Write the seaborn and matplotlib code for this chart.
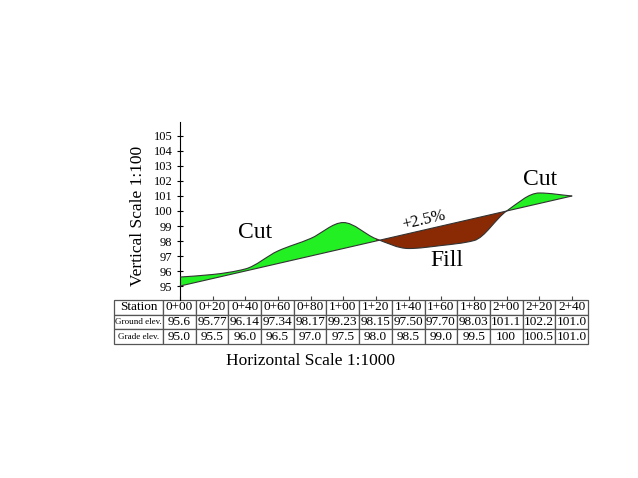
import numpy as np
import matplotlib
matplotlib.use("Agg")
import matplotlib.pyplot as plt
from matplotlib.path import Path
from matplotlib.patches import PathPatch
import seaborn as sns

# profile data (stations in m)
stations = [0, 20, 40, 60, 80, 100, 120, 140, 160, 180, 200, 220, 240]
ground_drawn = [95.6, 95.77, 96.14, 97.34, 98.17, 99.23, 98.15, 97.50, 97.70, 98.03, 100.0, 101.2, 101.0]
grade = [95.0, 95.5, 96.0, 96.5, 97.0, 97.5, 98.0, 98.5, 99.0, 99.5, 100.0, 100.5, 101.0]

# table text
station_labels = ["0+00", "0+20", "0+40", "0+60", "0+80", "1+00", "1+20",
                  "1+40", "1+60", "1+80", "2+00", "2+20", "2+40"]
ground_labels = ["95.6", "95.77", "96.14", "97.34", "98.17", "99.23", "98.15",
                 "97.50", "97.70", "98.03", "101.1", "102.2", "101.0"]
grade_labels = ["95.0", "95.5", "96.0", "96.5", "97.0", "97.5", "98.0",
                "98.5", "99.0", "99.5", "100", "100.5", "101.0"]

# cut / fill regions as (start index, end index, colour)
regions = [(0, 6, "#22f022"), (6, 10, "#8a2a04"), (10, 12, "#22f022")]

sns.set_theme(style="white")
plt.rcParams["font.family"] = ["Liberation Serif", "DejaVu Serif"]
plt.rcParams["text.color"] = "black"
plt.rcParams["ytick.color"] = "black"

x = np.array(stations, dtype=float)
y = np.array(ground_drawn)
g = np.array(grade)

# tangents for a smooth (monotone) curve through the ground points
d = np.diff(y) / np.diff(x)
m = np.zeros(len(x))
m[0], m[-1] = d[0], d[-1]
for i in range(1, len(x) - 1):
    if d[i - 1] * d[i] <= 0:
        m[i] = 0
    else:
        m[i] = 2 * d[i - 1] * d[i] / (d[i - 1] + d[i])


def curve_verts(a, b):
    verts, codes = [], []
    for i in range(a, b):
        h = x[i + 1] - x[i]
        verts += [(x[i] + h / 3, y[i] + m[i] * h / 3),
                  (x[i + 1] - h / 3, y[i + 1] - m[i + 1] * h / 3),
                  (x[i + 1], y[i + 1])]
        codes += [Path.CURVE4] * 3
    return verts, codes


fig = plt.figure(figsize=(6.38, 4.78), dpi=100)
ax = fig.add_axes([114 / 638, 1 - 300 / 478, 474 / 638, 178 / 478])
ax.set_xlim(-40.4, 249.8)
ax.set_ylim(94.07, 105.93)

for a, b, col in regions:
    cv, cc = curve_verts(a, b)
    verts = [(x[a], g[a]), (x[a], y[a])] + cv + [(x[b], g[b]), (x[a], g[a])]
    codes = [Path.MOVETO, Path.LINETO] + cc + [Path.LINETO, Path.CLOSEPOLY]
    ax.add_patch(PathPatch(Path(verts, codes), facecolor=col, edgecolor="none", zorder=2))

cv, cc = curve_verts(0, len(x) - 1)
ax.add_patch(PathPatch(Path([(x[0], y[0])] + cv, [Path.MOVETO] + cc),
                       fill=False, edgecolor="#333333", lw=0.8, zorder=3))
sns.lineplot(x=stations, y=grade, color="#333333", lw=0.8, ax=ax, zorder=3)

for side in ["top", "right", "bottom"]:
    ax.spines[side].set_visible(False)
ax.spines["left"].set_position(("data", 0))
ax.spines["left"].set_color("black")
ax.spines["left"].set_linewidth(0.8)

ax.set_yticks(range(95, 106))
ax.tick_params(axis="y", left=True, direction="inout", length=5, width=0.8,
               pad=3, labelsize=9, colors="black")
ax.set_xticks(stations)
ax.tick_params(axis="x", bottom=True, direction="in", length=3, width=0.8,
               labelbottom=False, colors="#444444")

ax.text(46.2, 98.57, "Cut", fontsize=17, ha="center", va="center", color="black")
ax.text(220.4, 102.13, "Cut", fontsize=17, ha="center", va="center", color="black")
ax.text(163.5, 96.73, "Fill", fontsize=17, ha="center", va="center", color="black")
ax.text(149.4, 99.4, "+2.5%", fontsize=12, ha="center", va="center", rotation=13,
        color="black")

cells = [["Station"] + station_labels,
         ["Ground elev."] + ground_labels,
         ["Grade elev."] + grade_labels]
first = 49 / 474
rest = (1 - first) / len(station_labels)
tab = ax.table(cellText=cells, cellLoc="center",
               colWidths=[first] + [rest] * len(station_labels),
               bbox=[0, -44 / 178, 1, 44 / 178])
tab.auto_set_font_size(False)
for (r, c), cell in tab.get_celld().items():
    cell.set_edgecolor("#555555")
    cell.set_linewidth(0.9)
    cell.get_text().set_fontfamily(["Liberation Serif", "DejaVu Serif"])
    cell.get_text().set_color("black")
    if c == 0 and r > 0:
        cell.get_text().set_fontsize(6.5)
    else:
        cell.get_text().set_fontsize(9.5)

fig.text(138 / 638, 1 - 216 / 478, "Vertical Scale 1:100", rotation=90,
         fontsize=12.5, ha="center", va="center")
fig.text(310 / 638, 1 - 361 / 478, "Horizontal Scale 1:1000",
         fontsize=12.5, ha="center", va="center")

fig.savefig("out.png", dpi=100)
